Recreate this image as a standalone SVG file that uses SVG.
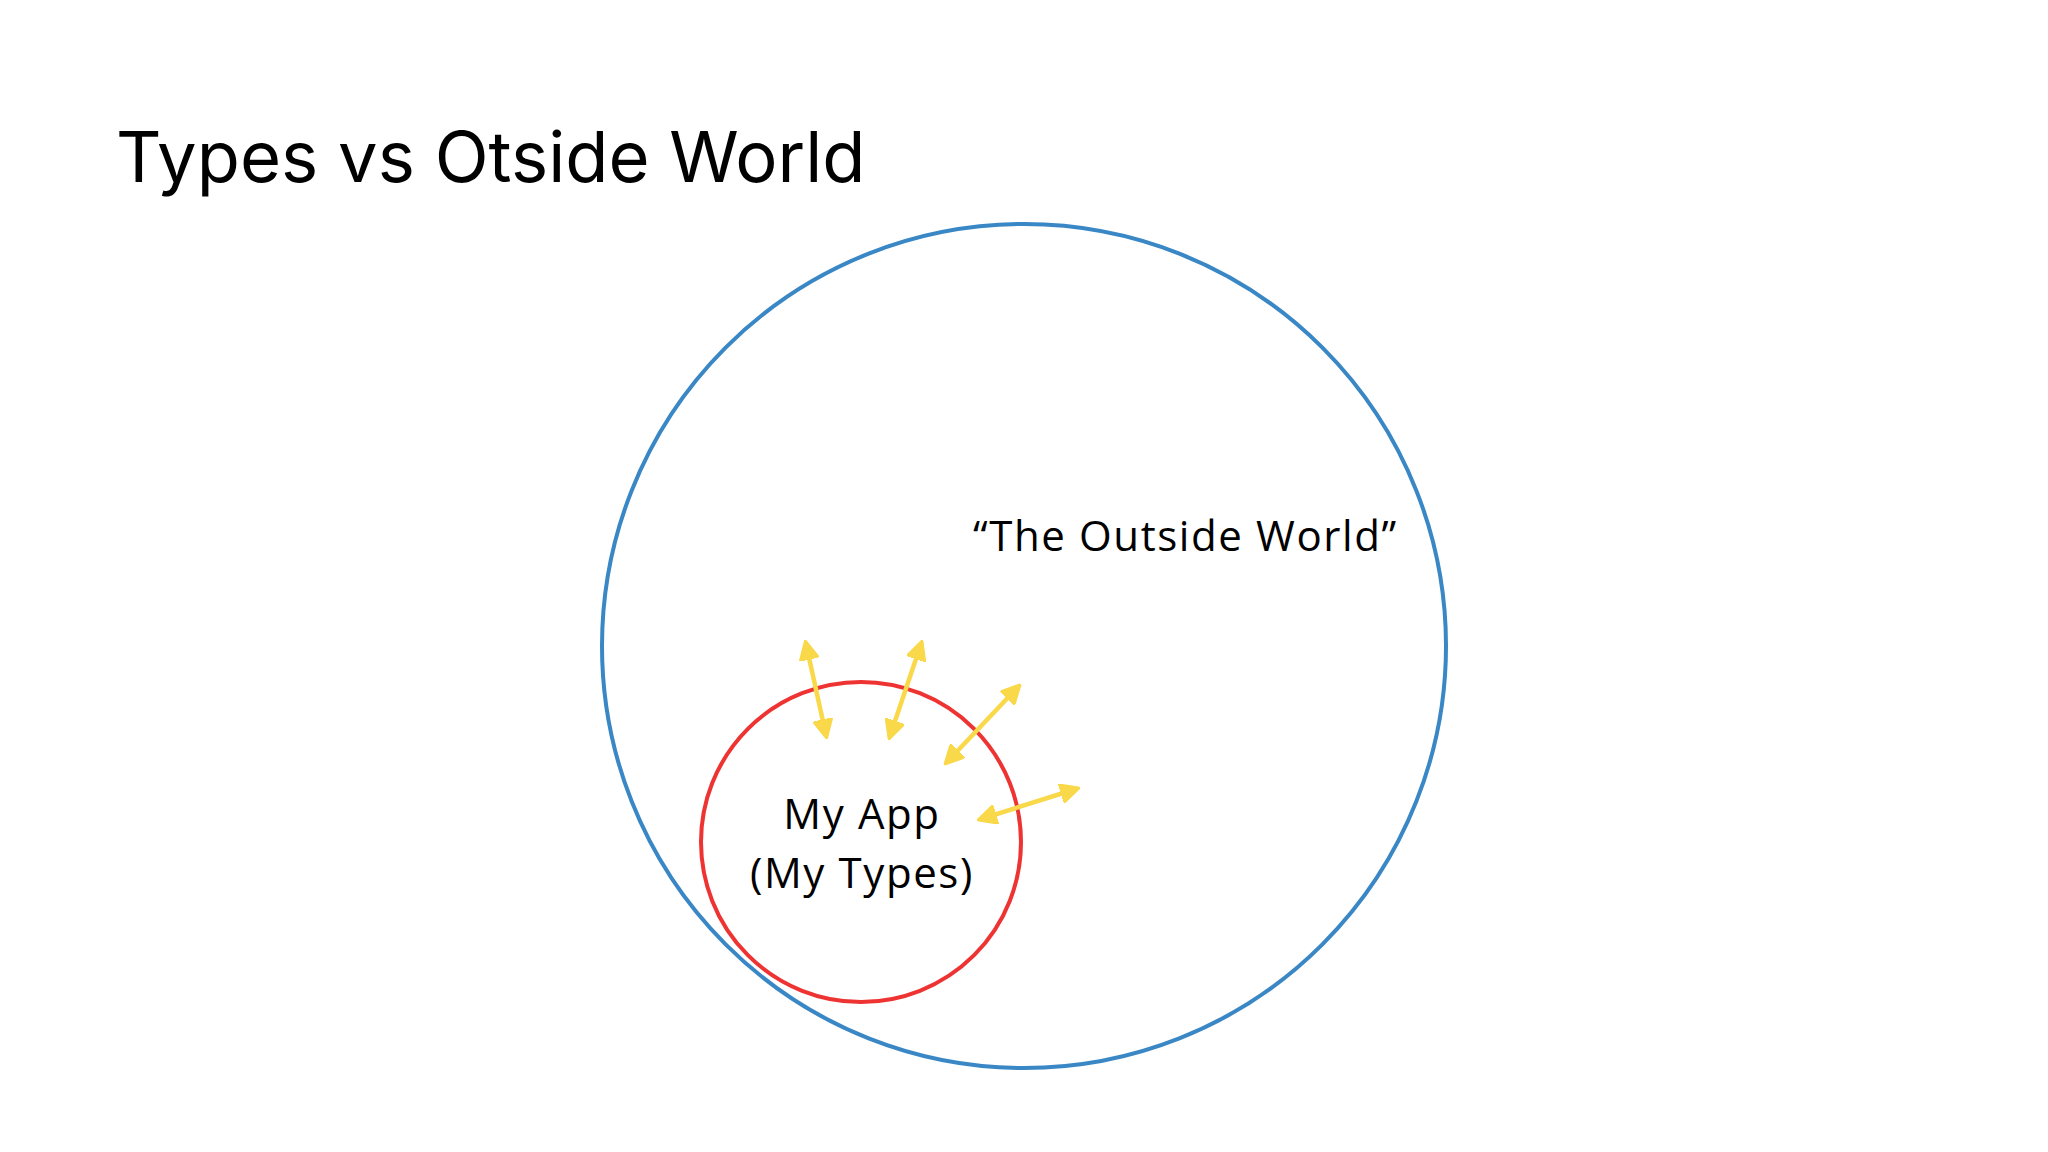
<svg xmlns="http://www.w3.org/2000/svg" width="2048" height="1152" viewBox="0 0 2048 1152">
<defs>
<style>
.title{font-family:Inter,"Liberation Sans",sans-serif;font-size:70.5px;fill:#000}
.lbl{font-family:"Open Sans","Noto Sans",sans-serif;font-size:42px;letter-spacing:1.6px;fill:#000}
.arr{stroke:#F9D84A;stroke-width:4.5;fill:none;marker-start:url(#ah);marker-end:url(#ah)}
</style>
<marker id="ah" viewBox="0 0 10 10" refX="8" refY="5" markerWidth="4.4" markerHeight="4.4" orient="auto-start-reverse" markerUnits="strokeWidth">
<path d="M0,0 L10,5 L0,10 Z" fill="#F9D84A" stroke="#F9D84A" stroke-linejoin="round"/>
</marker>
</defs>
<rect width="2048" height="1152" fill="#fff"/>
<text class="title" x="116" y="182">Types vs Otside World</text>
<g id="outside-world">
<circle cx="1024" cy="646" r="422" fill="none" stroke="#3A87C6" stroke-width="4"/>
<text class="lbl" x="973" y="551">“The Outside World”</text>
</g>
<g id="my-app">
<circle cx="861" cy="842" r="160" fill="none" stroke="#EE3333" stroke-width="4"/>
<text class="lbl" x="862" y="829" text-anchor="middle">My App</text>
<text class="lbl" x="862" y="888" text-anchor="middle">(My Types)</text>
</g>
<g id="connectors">
<line class="arr" x1="806" y1="644" x2="826" y2="735"/>
<line class="arr" x1="921" y1="644" x2="890" y2="736"/>
<line class="arr" x1="1018" y1="687" x2="947" y2="762"/>
<line class="arr" x1="1076" y1="789" x2="981" y2="819"/>
</g>
</svg>
